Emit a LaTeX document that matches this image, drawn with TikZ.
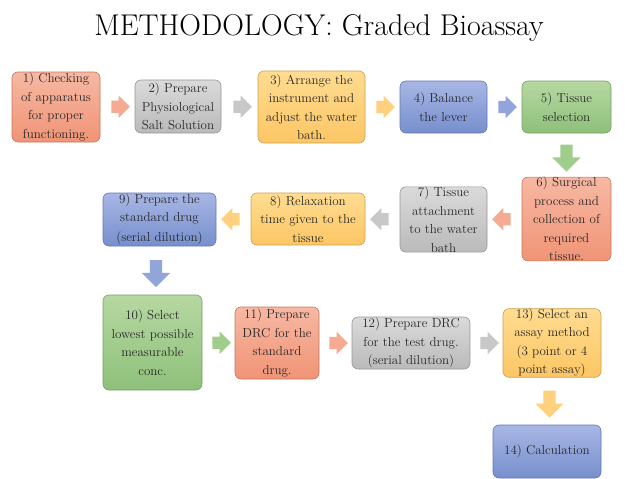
\documentclass[tikz,border=0pt]{standalone}
\usetikzlibrary{shapes.arrows, calc}

\definecolor{salmonT}{RGB}{247,184,163}
\definecolor{salmonB}{RGB}{240,148,118}
\definecolor{salmonD}{RGB}{196,118,92}
\definecolor{salmonA}{RGB}{245,170,145}
\definecolor{greyT}{RGB}{218,218,218}
\definecolor{greyB}{RGB}{186,186,186}
\definecolor{greyD}{RGB}{150,150,150}
\definecolor{greyA}{RGB}{200,200,200}
\definecolor{yellowT}{RGB}{255,220,145}
\definecolor{yellowB}{RGB}{252,198,100}
\definecolor{yellowD}{RGB}{205,160,80}
\definecolor{yellowA}{RGB}{255,208,125}
\definecolor{blueT}{RGB}{168,182,228}
\definecolor{blueB}{RGB}{118,143,205}
\definecolor{blueD}{RGB}{100,120,180}
\definecolor{blueA}{RGB}{145,165,218}
\definecolor{greenT}{RGB}{182,216,162}
\definecolor{greenB}{RGB}{142,192,122}
\definecolor{greenD}{RGB}{115,160,100}
\definecolor{greenA}{RGB}{160,205,140}
\definecolor{inktext}{RGB}{40,40,40}

\begin{document}
\begin{tikzpicture}
  [
    x=1pt, y=-1pt,
    every node/.style={font=\fontsize{13}{18.5}\selectfont, text=inktext},
    box/.style={rounded corners=6pt, align=center, inner sep=0pt, line width=0.6pt},
    salmonbox/.style={box, draw=salmonD, top color=salmonT, bottom color=salmonB},
    greybox/.style={box, draw=greyD, top color=greyT, bottom color=greyB},
    yellowbox/.style={box, draw=yellowD, top color=yellowT, bottom color=yellowB},
    bluebox/.style={box, draw=blueD, top color=blueT, bottom color=blueB},
    greenbox/.style={box, draw=greenD, top color=greenT, bottom color=greenB},
    harrow/.style={single arrow, draw=none, inner sep=6pt, minimum width=22pt, minimum height=18pt, single arrow head extend=5pt},
    varrow/.style={single arrow, draw=none, shape border rotate=270, inner sep=6pt, minimum width=28pt, minimum height=27pt, single arrow head extend=8pt}
  ]
	\useasboundingbox (0,0) rectangle (638,479);

	\node[font=\fontsize{30}{34}\selectfont, text=black, anchor=base] (title) at (319,35) {METHODOLOGY: Graded Bioassay};

	\node[salmonbox, minimum width=88pt, minimum height=70pt] (b1) at (56,107) {1) Checking\\of apparatus\\for proper\\functioning.};
	\node[greybox, minimum width=86pt, minimum height=53pt] (b2) at (178,106.5) {2) Prepare\\Physiological\\Salt Solution};
	\node[yellowbox, minimum width=107pt, minimum height=72pt] (b3) at (311.5,107) {3) Arrange the\\instrument and\\adjust the water\\bath.};
	\node[bluebox, minimum width=87pt, minimum height=52pt] (b4) at (443.5,107) {4) Balance\\the lever};
	\node[greenbox, minimum width=89pt, minimum height=52pt] (b5) at (566.5,107) {5) Tissue\\selection};

	\node[salmonbox, minimum width=89pt, minimum height=82pt] (b6) at (566.5,219) {6) Surgical\\process and\\collection of\\required\\tissue.};
	\node[greybox, minimum width=87pt, minimum height=65pt] (b7) at (443.5,219.5) {7) Tissue\\attachment\\to the water\\bath};
	\node[yellowbox, minimum width=114pt, minimum height=52pt] (b8) at (308,219) {8) Relaxation\\time given to the\\tissue};
	\node[bluebox, minimum width=113pt, minimum height=53pt] (b9) at (159.5,219.5) {9) Prepare the\\standard drug\\[1.5pt](serial dilution)};

	\node[greenbox, minimum width=99pt, minimum height=95pt] (b10) at (152.5,342.5) {10) Select\\lowest possible\\measurable\\conc.};
	\node[salmonbox, minimum width=84pt, minimum height=72pt] (b11) at (277,343) {11) Prepare\\DRC for the\\standard\\drug.};
	\node[greybox, minimum width=118pt, minimum height=52pt] (b12) at (411,343) {12) Prepare DRC\\for the test drug.\\(serial dilution)};
	\node[yellowbox, minimum width=98pt, minimum height=66pt] (b13) at (552,343) {13) Select an\\assay method\\(3 point or 4\\point assay)};
	\node[bluebox, minimum width=108pt, minimum height=53pt] (b14) at (547,451.5) {14) Calculation};

	\node[harrow, fill=salmonA] (a1) at ($(b1.east)!0.5!(b2.west)$) {};
	\node[harrow, fill=greyA] (a2) at ($(b2.east)!0.5!(b3.west)$) {};
	\node[harrow, fill=yellowA] (a3) at ($(b3.east)!0.5!(b4.west)$) {};
	\node[harrow, fill=blueA] (a4) at ($(b4.east)!0.5!(b5.west)$) {};
	\node[varrow, fill=greenA] (a5) at ($(b5.south)!0.5!(b6.north)$) {};
	\node[harrow, shape border rotate=180, fill=salmonA] (a6) at ($(b6.west)!0.5!(b7.east)$) {};
	\node[harrow, shape border rotate=180, fill=greyA] (a7) at ($(b7.west)!0.5!(b8.east)$) {};
	\node[harrow, shape border rotate=180, fill=yellowA] (a8) at ($(b8.west)!0.5!(b9.east)$) {};
	\node[varrow, fill=blueA] (a9) at ($(b9.south)!0.5!(b10.north)$) {};
	\node[harrow, fill=greenA] (a10) at ($(b10.east)!0.5!(b11.west)$) {};
	\node[harrow, fill=salmonA] (a11) at ($(b11.east)!0.5!(b12.west)$) {};
	\node[harrow, fill=greyA] (a12) at ($(b12.east)!0.5!(b13.west)$) {};
	\node[varrow, fill=yellowA] (a13) at ($(b13.south)!0.5!(b14.north)$) {};
\end{tikzpicture}
\end{document}
